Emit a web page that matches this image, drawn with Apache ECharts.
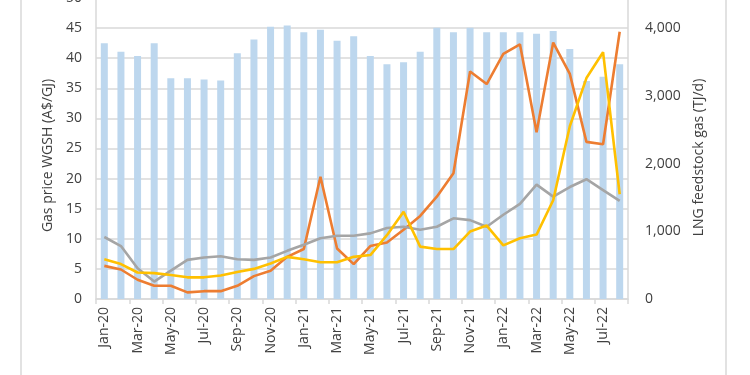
<!DOCTYPE html>
<html>
<head>
<meta charset="utf-8">
<script src="https://cdn.jsdelivr.net/npm/echarts@6/dist/echarts.min.js"></script>
<style>
  html, body { margin: 0; padding: 0; background: #fff; }
  #chart { width: 750px; height: 375px; }
</style>
</head>
<body>
<div id="chart"></div>
<script>
// Months Jan-20 .. Aug-22
const months = [
  "Jan-20", "Feb-20", "Mar-20", "Apr-20", "May-20", "Jun-20", "Jul-20", "Aug-20",
  "Sep-20", "Oct-20", "Nov-20", "Dec-20", "Jan-21", "Feb-21", "Mar-21", "Apr-21",
  "May-21", "Jun-21", "Jul-21", "Aug-21", "Sep-21", "Oct-21", "Nov-21", "Dec-21",
  "Jan-22", "Feb-22", "Mar-22", "Apr-22", "May-22", "Jun-22", "Jul-22", "Aug-22"
];

// LNG feedstock gas, TJ/d (right axis)
const feedstock = [
  3777, 3652, 3589, 3777, 3260, 3260, 3242, 3225,
  3630, 3833, 4020, 4040, 3937, 3977, 3815, 3878,
  3589, 3468, 3496, 3652, 4005, 3937, 4005, 3937,
  3937, 3937, 3917, 3958, 3690, 3218, 3282, 3468
];

// Gas prices, A$/GJ (left axis)
const orangePrice = [
  5.5, 4.9, 3.2, 2.2, 2.2, 1.1, 1.3, 1.3,
  2.2, 3.8, 4.7, 7.0, 8.3, 20.3, 8.4, 5.8,
  8.8, 9.4, 11.5, 13.8, 17.0, 20.9, 37.8, 35.7,
  40.7, 42.3, 27.7, 42.6, 37.4, 26.1, 25.7, 44.4
];
const yellowPrice = [
  6.6, 5.8, 4.4, 4.3, 4.0, 3.6, 3.6, 3.9,
  4.5, 5.0, 5.9, 7.0, 6.6, 6.1, 6.1, 7.0,
  7.3, 10.6, 14.5, 8.7, 8.3, 8.3, 11.2, 12.2,
  8.9, 10.1, 10.7, 16.4, 28.7, 36.7, 41.0, 17.4
];
const greyPrice = [
  10.3, 8.8, 5.1, 2.9, 4.7, 6.5, 6.9, 7.1,
  6.6, 6.5, 6.9, 8.0, 9.0, 10.1, 10.5, 10.5,
  10.9, 11.8, 12.0, 11.5, 12.0, 13.4, 13.1, 12.0,
  14.0, 15.8, 19.0, 17.0, 18.6, 19.9, 18.1, 16.3
];

const priceTicks = { min: 0, max: 50, interval: 5 };
const feedTicks = { min: 0, max: 40000 / 9, interval: 1000 };

const FONT = "'Open Sans', 'Noto Sans', sans-serif";
const TEXT = "#404040";
const GRID = "#d9d9d9";

const chart = echarts.init(document.getElementById("chart"));

function priceLine(data, color) {
  return {
    type: "line",
    yAxisIndex: 0,
    data: data,
    symbol: "none",
    lineStyle: { color: color, width: 2.6 },
    itemStyle: { color: color },
    z: 3
  };
}

chart.setOption({
  animation: false,
  textStyle: { fontFamily: FONT },
  grid: {
    left: 96, right: 122, top: -2, bottom: 76,
    containLabel: false,
    outerBoundsMode: "none"
  },
  graphic: [
    { type: "line", shape: { x1: 21, y1: 0, x2: 21, y2: 375 }, style: { stroke: GRID, lineWidth: 1.5 } },
    { type: "line", shape: { x1: 726, y1: 0, x2: 726, y2: 375 }, style: { stroke: GRID, lineWidth: 1.5 } }
  ],
  xAxis: {
    type: "category",
    data: months,
    boundaryGap: true,
    axisLine: { lineStyle: { color: GRID, width: 1.5 } },
    axisTick: { show: true, interval: 1, length: 5, lineStyle: { color: GRID, width: 1.5 } },
    axisLabel: {
      interval: 1,
      rotate: 90,
      margin: 8,
      color: TEXT,
      fontSize: 14,
      fontFamily: FONT
    }
  },
  yAxis: [
    {
      type: "value",
      min: priceTicks.min,
      max: priceTicks.max,
      interval: priceTicks.interval,
      name: "Gas price WGSH (A$/GJ)",
      nameLocation: "middle",
      nameGap: 39,
      nameRotate: 90,
      nameTextStyle: { color: TEXT, fontSize: 14, fontFamily: FONT, padding: [0, 14, 0, 0] },
      axisLine: { show: true, lineStyle: { color: GRID, width: 1.5 } },
      axisTick: { show: false },
      axisLabel: { color: TEXT, fontSize: 14, margin: 14, fontFamily: FONT },
      splitLine: { show: true, lineStyle: { color: GRID, width: 1.5 } }
    },
    {
      type: "value",
      min: feedTicks.min,
      max: feedTicks.max,
      interval: feedTicks.interval,
      name: "LNG feedstock gas (TJ/d)",
      nameLocation: "middle",
      nameGap: 64,
      nameRotate: 90,
      nameTextStyle: { color: TEXT, fontSize: 14, fontFamily: FONT, padding: [0, 18, 0, 0] },
      axisLine: { show: true, lineStyle: { color: GRID, width: 1.5 } },
      axisTick: { show: false },
      axisLabel: {
        color: TEXT,
        fontSize: 14,
        margin: 17,
        fontFamily: FONT,
        showMaxLabel: false,
        formatter: (v) => Math.round(v).toLocaleString("en-US")
      },
      splitLine: { show: false }
    }
  ],
  series: [
    {
      type: "bar",
      yAxisIndex: 1,
      data: feedstock,
      barWidth: 7,
      itemStyle: { color: "#bdd7ee" },
      z: 1
    },
    priceLine(orangePrice, "#ed7d31"),
    priceLine(greyPrice, "#a5a5a5"),
    priceLine(yellowPrice, "#ffc000")
  ]
});
</script>
</body>
</html>
